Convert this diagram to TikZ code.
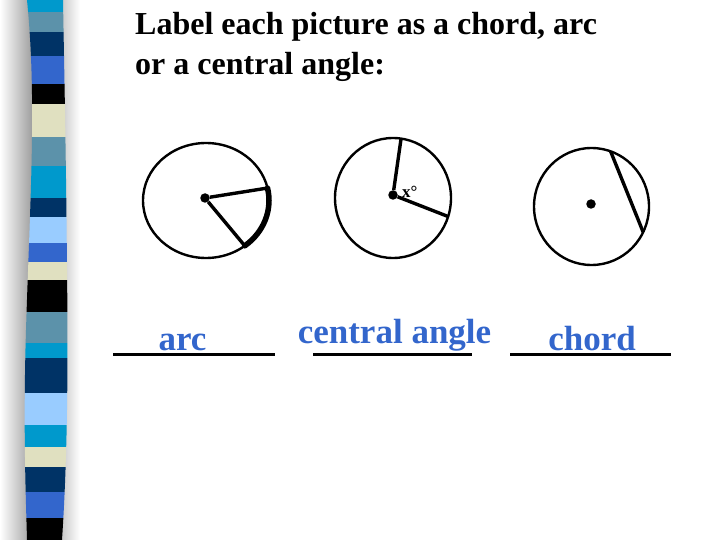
\documentclass[tikz,border=0pt]{standalone}
\usepackage{fontspec}
\setmainfont{Liberation Serif}
\usetikzlibrary{positioning}
\definecolor{cyanbar}{RGB}{0,153,204}
\definecolor{steelbar}{RGB}{92,146,170}
\definecolor{navybar}{RGB}{0,51,102}
\definecolor{royalbar}{RGB}{51,102,204}
\definecolor{creambar}{RGB}{224,224,192}
\definecolor{skybar}{RGB}{153,204,255}
\definecolor{answerblue}{RGB}{51,102,204}
\tikzset{
    rim/.style = {line width=2.4pt},
    spoke/.style = {line width=3.4pt},
    arcstroke/.style = {line width=5.5pt, line cap=round},
    hub/.style = {circle, fill, inner sep=0pt, minimum size=9.5pt},
    heading/.style = {font=\fontsize{32}{40}\selectfont\bfseries, inner sep=0pt, align=left, anchor=base west},
    answer/.style = {text=answerblue, font=\fontsize{35}{42}\selectfont\bfseries, inner sep=0pt, anchor=base},
    degree/.style = {font=\fontsize{17}{20}\selectfont\bfseries, inner sep=0pt, anchor=base west},
    blank/.style = {line width=3pt}}

\begin{document}
\begin{tikzpicture}[x=1pt, y=-1pt]
    \useasboundingbox (0,0) rectangle (720,540);
    % side bar
    \shade[left color=white, right color=gray!85] (0,0) rectangle (36,540);
    \shade[left color=gray!45, right color=white] (60,0) rectangle (80,540);
    \begin{scope}
        \clip (27,0) .. controls (37,100) and (30,200) .. (26,330)
            .. controls (23,430) and (26,500) .. (27,540) -- (62,540)
            .. controls (68,450) and (68,350) .. (67,270)
            .. controls (66,150) and (64,60) .. (63,0) -- cycle;
        \foreach \ya/\yb/\col in {0/12/cyanbar, 12/32/steelbar, 32/56/navybar, 56/84/royalbar,
            84/104/black, 104/137/creambar, 137/166/steelbar, 166/198/cyanbar, 198/217/navybar,
            217/243/skybar, 243/262/royalbar, 262/280/creambar, 280/312/black, 312/343/steelbar,
            343/358/cyanbar, 358/393/navybar, 393/425/skybar, 425/447/cyanbar, 447/467/creambar,
            467/492/navybar, 492/518/royalbar, 518/540/black}
            \fill[\col] (20,\ya) rectangle (75,\yb);
    \end{scope}

    \node[heading] (title) at (135,75) {Label each picture as a chord, arc\\or a central angle:};

    % arc
    \coordinate (c1) at (206,200.5);
    \draw[rim] (c1) ellipse [x radius=63, y radius=57.5];
    \coordinate (a1) at ([shift={(-12.5:63 and 57.5)}]c1);
    \coordinate (b1) at ([shift={(52:63 and 57.5)}]c1);
    \node[hub] (o1) at (205,198) {};
    \draw[spoke] (o1) -- (a1);
    \draw[spoke] (o1) -- (b1);
    \draw[arcstroke] (a1) arc [start angle=-12.5, end angle=52, x radius=63, y radius=57.5];

    % central angle
    \coordinate (c2) at (393,198);
    \draw[rim] (c2) ellipse [x radius=58, y radius=60];
    \coordinate (a2) at ([shift={(-82:58 and 60)}]c2);
    \coordinate (b2) at ([shift={(18:58 and 60)}]c2);
    \node[hub] (o2) at (393,195) {};
    \draw[spoke] (o2) -- (a2);
    \draw[spoke] (o2) -- (b2);
    \node[degree] (x2) at (402,197) {x°};

    % chord
    \coordinate (c3) at (591.5,206.5);
    \draw[rim] (c3) ellipse [x radius=57.5, y radius=58.5];
    \coordinate (a3) at ([shift={(-70.6:57.5 and 58.5)}]c3);
    \coordinate (b3) at ([shift={(26:57.5 and 58.5)}]c3);
    \node[hub] (o3) at (591,204) {};
    \draw[spoke] (a3) -- (b3);

    \node[answer] (arc) at (182.5,350) {arc};
    \node[answer] (central) at (394.5,343) {central angle};
    \node[answer] (chord) at (592,350) {chord};
    \draw[blank] (113,354) -- (275,354);
    \draw[blank] (313,354) -- (472,354);
    \draw[blank] (510,354) -- (671,354);
\end{tikzpicture}
\end{document}
